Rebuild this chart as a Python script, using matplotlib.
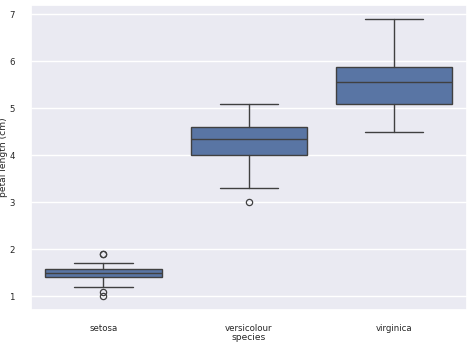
import matplotlib
matplotlib.use("Agg")
import matplotlib.pyplot as plt
import seaborn as sns

# box statistics (petal length in cm)
species = ["setosa", "versicolour", "virginica"]
q1 = [1.4, 4.0, 5.1]
medians = [1.5, 4.35, 5.55]
q3 = [1.575, 4.6, 5.875]
whisker_low = [1.2, 3.3, 4.5]
whisker_high = [1.7, 5.1, 6.9]
outliers = [[1.0, 1.1, 1.9, 1.9], [3.0], []]

sns.set_theme(style="darkgrid")

box_color = sns.desaturate("#4c72b0", 0.75)
line_color = "#404040"

stats = []
for i, name in enumerate(species):
    stats.append({
        "label": name,
        "q1": q1[i],
        "med": medians[i],
        "q3": q3[i],
        "whislo": whisker_low[i],
        "whishi": whisker_high[i],
        "fliers": outliers[i],
    })

fig, ax = plt.subplots(figsize=(4.74, 3.43), dpi=100)
fig.subplots_adjust(left=0.065, right=0.985, top=0.985, bottom=0.096)

lw = 1.0
ax.bxp(stats, positions=range(len(species)), widths=0.8, patch_artist=True,
       boxprops=dict(facecolor=box_color, edgecolor=line_color, linewidth=lw),
       medianprops=dict(color=line_color, linewidth=lw),
       whiskerprops=dict(color=line_color, linewidth=lw),
       capprops=dict(color=line_color, linewidth=lw),
       flierprops=dict(marker="o", markerfacecolor="none",
                       markeredgecolor=line_color, markersize=4.5,
                       markeredgewidth=0.9))

ax.set_xlim(-0.5, len(species) - 0.5)
ax.set_ylim(0.705, 7.195)
ax.set_yticks([1, 2, 3, 4, 5, 6, 7])
ax.set_xticks(range(len(species)))
ax.set_xticklabels(species)
ax.tick_params(labelsize=6.2, pad=4)
ax.tick_params(axis="y", pad=5.5)
ax.xaxis.grid(False)
ax.set_xlabel("species", fontsize=6.6)
ax.set_ylabel("petal length (cm)", fontsize=6.6)
ax.xaxis.set_label_coords(0.5, -0.075)
ax.yaxis.set_label_coords(-0.052, 0.5)

fig.savefig("out.png", dpi=100)
